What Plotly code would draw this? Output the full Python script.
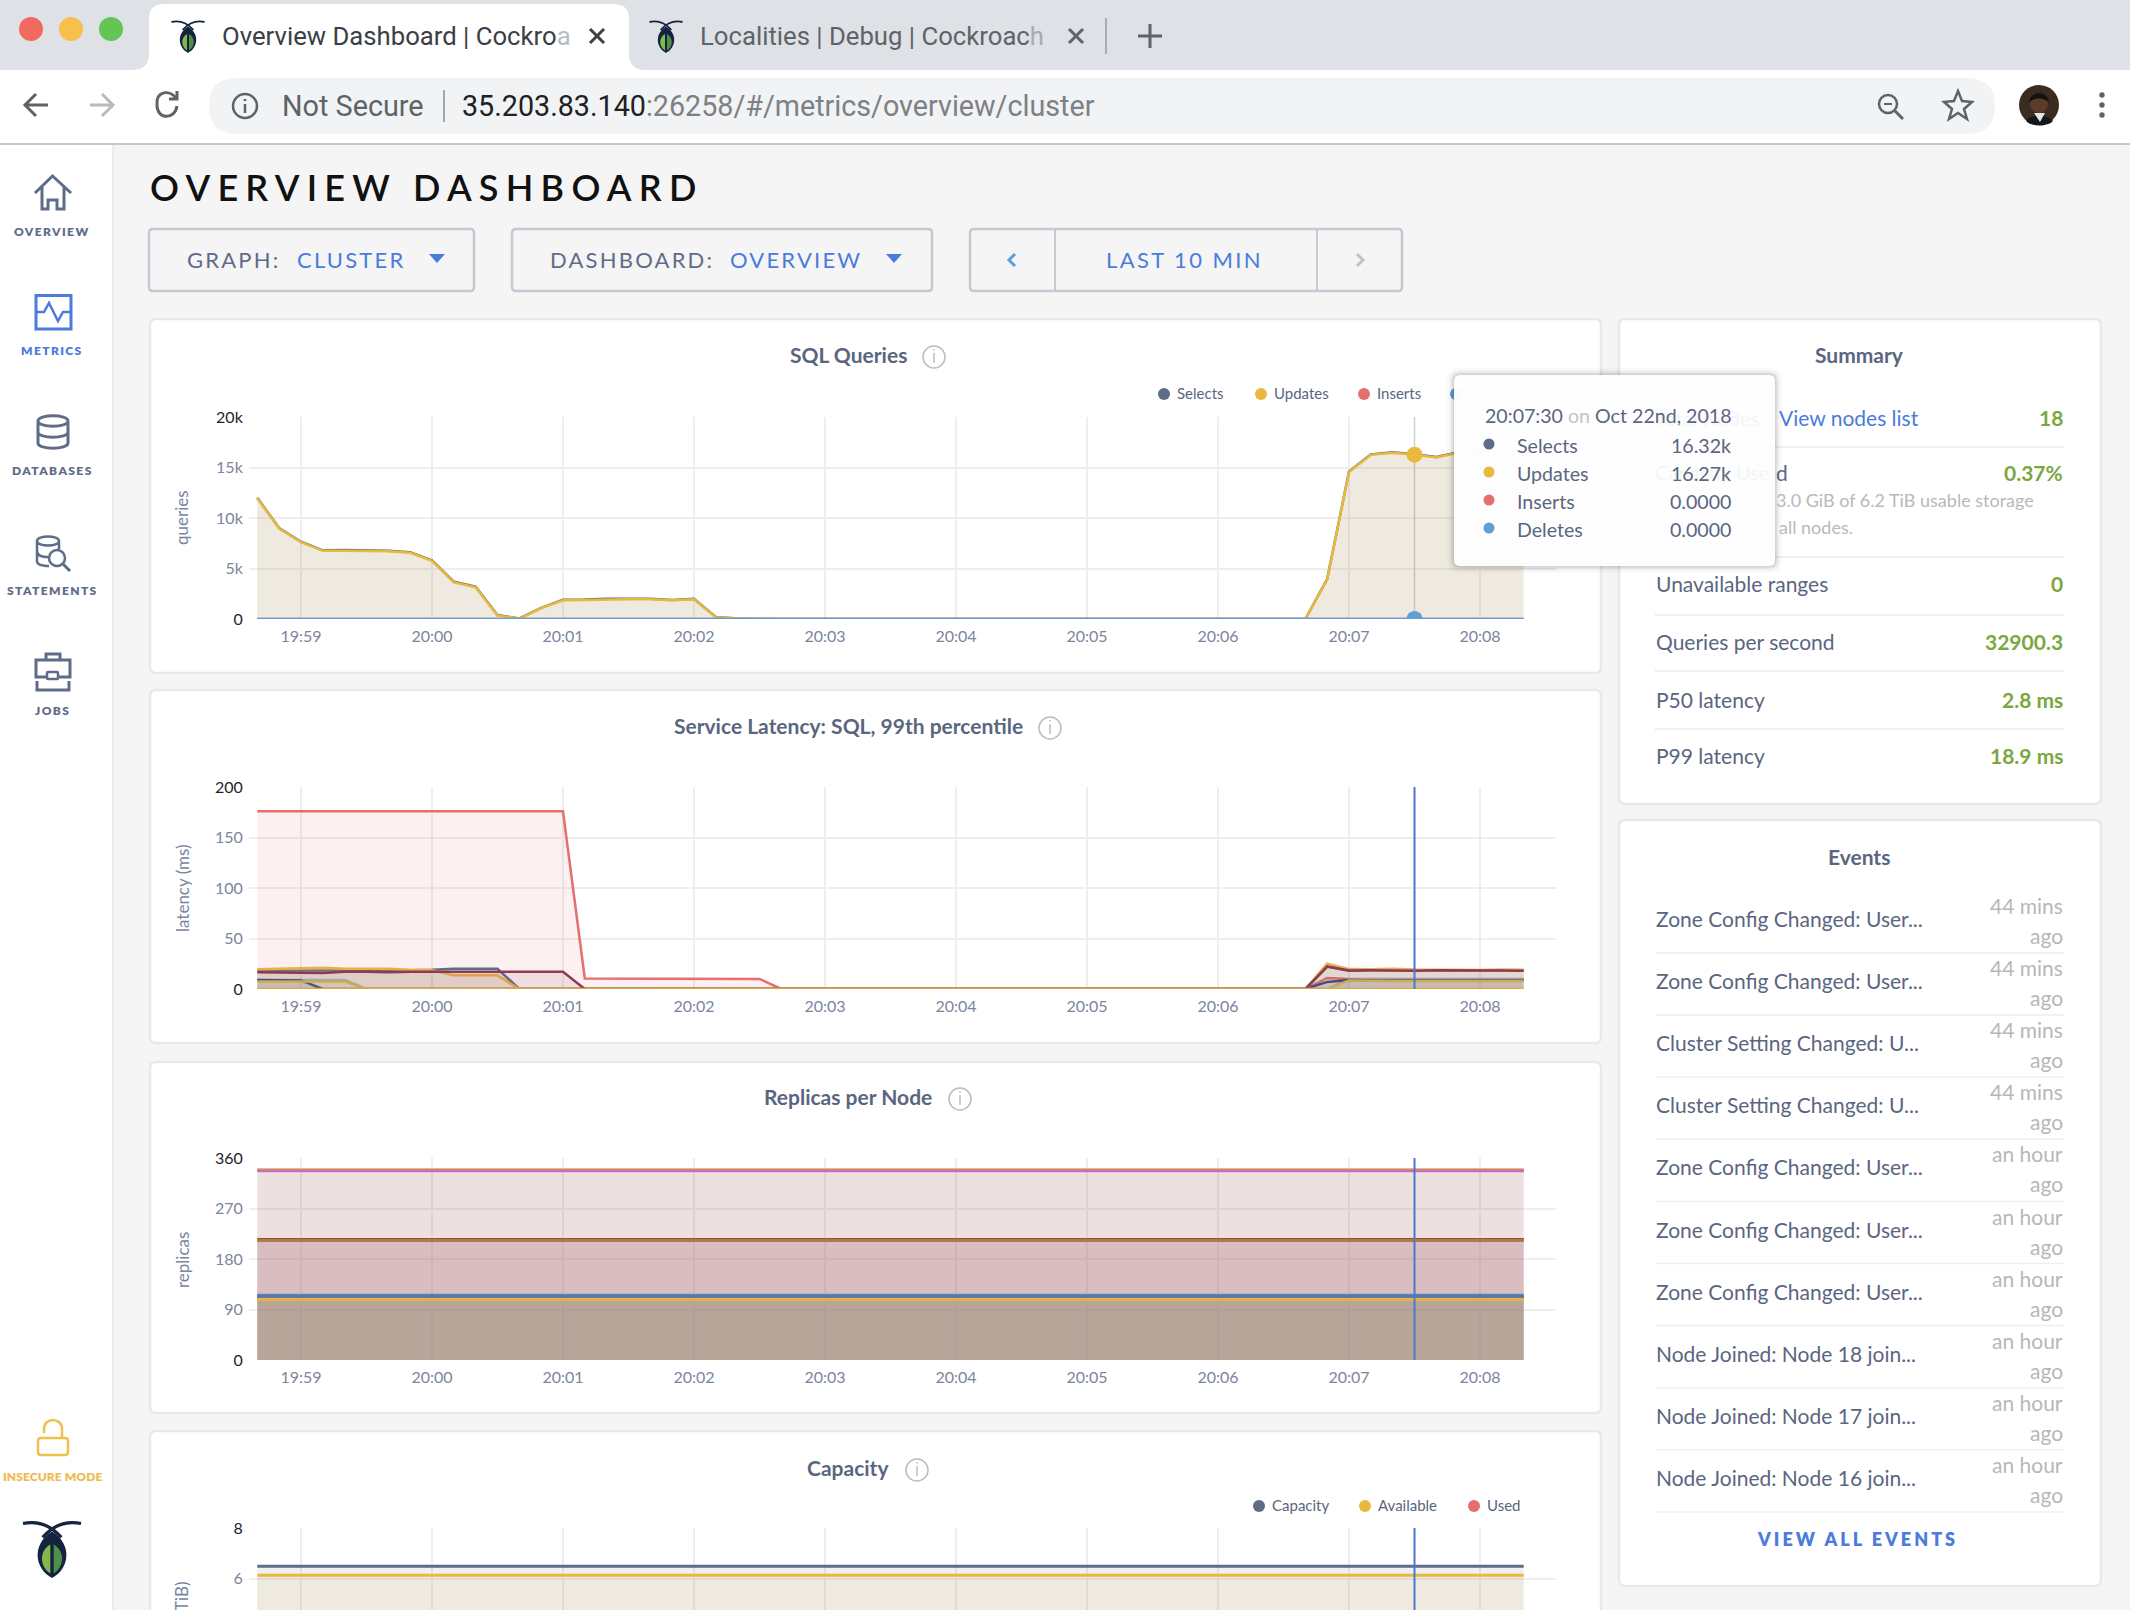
import re
import pandas as pd
import plotly.graph_objects as go

W, H = 2130, 1610

# ---- chart data (one point every 10 s) ----
times = pd.date_range("2018-10-22 19:58:40", periods=59, freq="10s").strftime("%Y-%m-%d %H:%M:%S").tolist()
hover_time = "2018-10-22 20:07:30"

selects = [12000, 9000, 7650, 6800, 6820, 6780, 6760, 6620, 5800, 3700, 3200, 400, 50, 1100, 1900, 1920, 2000, 2000, 2010, 1880, 2000, 200, 50] + [0] * 26 + [3950, 14600, 16300, 16520, 16320, 16050, 16500, 16700, 16500, 16600]
updates = [11950, 8950, 7600, 6750, 6760, 6720, 6710, 6560, 5750, 3620, 3150, 350, 40, 1080, 1860, 1880, 1950, 1960, 1950, 1850, 1950, 180, 40] + [0] * 26 + [3900, 14550, 16250, 16470, 16270, 16000, 16450, 16650, 16450, 16550]
inserts = [0] * 59
deletes = [0] * 59

lat_red = [176] * 15 + [10.5, 10.4, 10.2, 10, 10, 9.8, 10, 10, 10] + [0] * 25 + [10.9] + [10] * 9
lat_maroon = [16.5, 16, 16, 15.8, 17, 17, 16.5, 17, 17, 17, 17, 17, 17, 17, 17] + [0] * 34 + [22.4, 18.4, 18.5, 18, 18, 18.5, 18.2, 17.8, 18.2, 18]
lat_orange = [19.5, 20, 20, 21, 20, 20, 20, 19, 18.5, 13.5, 13.5, 13.5] + [0] * 37 + [25, 19.7, 19.5, 20, 19.2, 19, 19, 18.8, 19.2, 19]
lat_slate = [18, 18, 18, 18, 18, 18.5, 18.5, 18.5, 19, 20, 20, 20] + [0] * 37 + [22, 18, 18.5, 18.5, 18.5, 18.5, 18.5, 18.5, 18.5, 18.5]
lat_navy = [9, 9, 8.5] + [0] * 46 + [7, 9, 8.5, 8.5, 8.5, 8.5, 8.5, 8.5, 8.5, 8.5]
lat_sky = [9, 9, 9, 9, 9] + [0] * 44 + [0, 9.5, 9.5, 9.5, 9.5, 9.5, 9.5, 9.5, 9.5, 9.5]
lat_lime = [7.5] * 5 + [0] * 44 + [0, 8.5, 8, 8, 8, 8, 8, 8, 8, 8]
lat_base = [0] * 59

rep_yellow_hi = [340] * 4 + [339] * 51 + [340] * 4
rep_pink = [337.5] * 59
rep_slate_hi = [338.5] * 59
rep_maroon = [214.5] * 59
rep_brown = [213] * 59
rep_red = [215] * 5 + [216] * 49 + [215] * 5
rep_teal = [116] * 59
rep_blue = [114] * 59
rep_olive = [112.5] * 59
rep_rust = [111] * 59
rep_yellow_lo = [108] * 59

cap_capacity = [6.49] * 4 + [6.47] * 51 + [6.49] * 4
cap_available = [6.13] * 59
cap_used = [0.02] * 59

sql_ticks = [0, 5000, 10000, 15000, 20000]
sql_labels = ["0", "5k", "10k", "15k", "20k"]
lat_ticks = [0, 50, 100, 150, 200]
lat_labels = ["0", "50", "100", "150", "200"]
rep_ticks = [0, 90, 180, 270, 360]
rep_labels = ["0", "90", "180", "270", "360"]
cap_ticks = [6, 8]
cap_labels = ["6", "8"]

summary_rows = ["Unavailable ranges", "Queries per second", "P50 latency", "P99 latency"]
summary_vals = ["0", "32900.3", "2.8 ms", "18.9 ms"]
event_names = ["Zone Config Changed: User...", "Zone Config Changed: User...", "Cluster Setting Changed: U...",
               "Cluster Setting Changed: U...", "Zone Config Changed: User...", "Zone Config Changed: User...",
               "Zone Config Changed: User...", "Node Joined: Node 18 join...", "Node Joined: Node 17 join...",
               "Node Joined: Node 16 join..."]
event_ages = ["44 mins"] * 4 + ["an hour"] * 6
tooltip_names = ["Selects", "Updates", "Inserts", "Deletes"]
tooltip_vals = ["16.32k", "16.27k", "0.0000", "0.0000"]

# ---- colours ----
SLATE = "#5f6c87"
YELLOW = "#e9b93e"
RED = "#e56e6e"
BLUE = "#5f9fd6"
LINK = "#4a7bdd"
GREEN = "#7ba73e"
TEXT = "#5a6680"
TICK = "#7b859d"
GRID = "#eeeeee"

shapes = []
notes = []


def px(x):
    return x / W


def py(y):
    return 1 - y / H


def rgba(c, a):
    return "rgba(%d,%d,%d,%s)" % (int(c[1:3], 16), int(c[3:5], 16), int(c[5:7], 16), a)


def path(d, line=None, width=0, fill=None, layer="below"):
    # d is written in page pixels, the shape wants paper fractions
    nums = iter(re.findall(r"[A-Za-z]|-?[\d.]+", d))
    out = []
    xturn = True
    for tok in nums:
        if tok.isalpha():
            out.append(tok)
            xturn = True
        else:
            v = float(tok)
            out.append("%.5f" % (px(v) if xturn else py(v)))
            xturn = not xturn
    shapes.append(dict(type="path", path=" ".join(out).replace(" ,", ","), xref="paper", yref="paper", layer=layer,
                       line=dict(color=line or "rgba(0,0,0,0)", width=width), fillcolor=fill or "rgba(0,0,0,0)"))


def rrect(x0, y0, x1, y1, r, fill=None, line=None, width=0, layer="below"):
    d = f"M{x0+r} {y0} L{x1-r} {y0} Q{x1} {y0} {x1} {y0+r} L{x1} {y1-r} Q{x1} {y1} {x1-r} {y1} L{x0+r} {y1} Q{x0} {y1} {x0} {y1-r} L{x0} {y0+r} Q{x0} {y0} {x0+r} {y0} Z"
    path(d, line, width, fill, layer)


def rect(x0, y0, x1, y1, fill, layer="below"):
    shapes.append(dict(type="rect", xref="paper", yref="paper", x0=px(x0), x1=px(x1), y0=py(y0), y1=py(y1),
                       fillcolor=fill, line=dict(width=0), layer=layer))


def circle(x, y, r, fill=None, line=None, width=0, layer="below"):
    shapes.append(dict(type="circle", xref="paper", yref="paper", x0=px(x - r), x1=px(x + r), y0=py(y - r), y1=py(y + r),
                       fillcolor=fill or "rgba(0,0,0,0)", line=dict(color=line or "rgba(0,0,0,0)", width=width), layer=layer))


def seg(x0, y0, x1, y1, color, width=2, layer="below"):
    shapes.append(dict(type="line", xref="paper", yref="paper", x0=px(x0), x1=px(x1), y0=py(y0), y1=py(y1),
                       line=dict(color=color, width=width), layer=layer))


def txt(x, y, s, size, color=TEXT, anchor="left", font="Lato", weight=400, angle=0, spacing=None):
    if spacing:
        s = f'<span style="letter-spacing:{spacing}px">{s}</span>'
    if font == "Lato" and angle == 0:
        y -= 1.5
    notes.append(dict(x=px(x), y=py(y), xref="paper", yref="paper", text=s, showarrow=False, xanchor=anchor, yanchor="middle",
                      textangle=angle, borderpad=0, font=dict(family=font, size=size, color=color, weight=weight)))


def roach(cx, top, h):
    def p(a, b):
        return f"{cx + a * h:.1f} {top + b * h:.1f}"
    path(f"M{p(-.5, .06)} Q{p(-.12, -.02)} {p(.16, .3)}", line="#14233f", width=max(1.5, h * .055))
    path(f"M{p(.5, .06)} Q{p(.12, -.02)} {p(-.16, .3)}", line="#14233f", width=max(1.5, h * .055))
    path(f"M{p(0, .2)} C{p(.36, .42)} {p(.3, .85)} {p(0, 1)} C{p(-.3, .85)} {p(-.36, .42)} {p(0, .2)} Z", fill="#14233f")
    path(f"M{p(-.03, .42)} C{p(-.22, .52)} {p(-.22, .8)} {p(-.03, .92)} Z", fill="#84b84a")
    path(f"M{p(.03, .42)} C{p(.22, .52)} {p(.22, .8)} {p(.03, .92)} Z", fill="#4f8f4a")


# ---- browser window ----
rect(0, 0, W, 70, "#dee1e6")
rect(0, 70, W, 143, "#ffffff")
rect(0, 143, W, 145, "#c8c8c8")
path("M132 70 Q149 70 149 54 L149 18 Q149 4 165 4 L613 4 Q629 4 629 18 L629 54 Q629 70 646 70 Z", fill="#ffffff")
for cx, col in zip([31, 71, 111], ["#f26a5f", "#f8bf4b", "#62c554"]):
    circle(cx, 29, 12, fill=col)
roach(188, 20, 33)
roach(666, 20, 33)
txt(221, 36, 'Overview Dashboard | Cockro<span style="color:#b9bcc2">a</span>', 25.7, "#3c4043", font="Roboto")
txt(699, 36, 'Localities | Debug | Cockroac<span style="color:#a8abb1">h</span>', 25.7, "#5f6368", font="Roboto")
for x0, col in [(596, "#3c4043"), (1075, "#5f6368")]:
    seg(x0 - 6, 29, x0 + 8, 43, col, 3)
    seg(x0 + 8, 29, x0 - 6, 43, col, 3)
seg(1106, 18, 1106, 54, "#a9acb2", 2)
seg(1150, 24, 1150, 48, "#5f6368", 3)
seg(1138, 36, 1162, 36, "#5f6368", 3)

path("M48 105 L25 105 M36 94 L25 105 L36 116", line="#5f6368", width=3)
path("M90 105 L113 105 M102 94 L113 105 L102 116", line="#b8babd", width=3)
path("M176 98 C170 90 156 90 157 105 C157 120 175 120 177 106 M177 91 L177 99 L169 99", line="#5f6368", width=3)
rrect(209, 78, 1995, 134, 28, fill="#f1f3f4")
circle(245, 106, 12, line="#5f6368", width=2.5)
seg(245, 104, 245, 113, "#5f6368", 2.5)
seg(245, 99, 245, 101, "#5f6368", 2.5)
txt(281, 106, "Not Secure", 28.8, "#5f6368", font="Roboto")
seg(444, 90, 444, 122, "#8a8d91", 1.5)
txt(461, 106, '35.203.83.140<span style="color:#7d8084">:26258/#/metrics/overview/cluster</span>', 28.7, "#202124", font="Roboto")
circle(1888, 104, 9, line="#5f6368", width=2.5)
seg(1895, 111, 1903, 119, "#5f6368", 3)
seg(1884, 104, 1892, 104, "#5f6368", 2)
path("M1958 91 L1962 101 L1972 102 L1964 109 L1967 119 L1958 113 L1949 119 L1952 109 L1944 102 L1954 101 Z", line="#5f6368", width=2.5)
# avatar
circle(2039, 105, 20, fill="#3b2c22")
path("M2026 121 C2030 114 2048 114 2053 121 C2048 127 2031 127 2026 121 Z", fill="#14161d")
path("M2034 113 L2045 113 L2040 122 Z", fill="#e8e4e4")
circle(2039, 104, 9, fill="#5c3b2b")
path("M2029 103 C2029 90 2049 90 2049 103 C2045 97 2033 97 2029 103 Z", fill="#16110f")
for y in [95, 105, 115]:
    circle(2102, y, 2.7, fill="#5f6368")

# ---- sidebar ----
rect(0, 145, 112, H, "#ffffff")
rect(112, 145, 114, H, "#ececec")
path("M35 193 L52.5 176 L71 193 M42 187 L42 209 L48 209 L48 200 L57 200 L57 209 L64 209 L64 187", line=SLATE, width=3)
path("M36 295.5 L71 295.5 L71 329 L36 329 Z", line=LINK, width=3)
path("M36 312 L44 312 L49 303 L58 321 L63 312 L71 312", line=LINK, width=2.5)
path("M38 421 C38 414 68 414 68 421 C68 428 38 428 38 421 L38 443 C38 450 68 450 68 443 L68 421 M38 432 C38 439 68 439 68 432", line=SLATE, width=3)
path("M37 541 C37 535 59 535 59 541 C59 547 37 547 37 541 L37 561 C37 565 44 566 49 566 M37 551 C37 556 44 557 48 557 M59 541 L59 549", line=SLATE, width=2.5)
circle(57, 558, 8, line=SLATE, width=2.5)
seg(63, 564, 70, 571, SLATE, 3)
path("M36 660 L70 660 L70 677 L36 677 Z M46 660 L46 654 L60 654 L60 660", line=SLATE, width=3)
rrect(47, 672, 58, 679, 1, fill="#ffffff", line=SLATE, width=2.5)
path("M37 681 L37 690 L69 690 L69 681", line=SLATE, width=3)
for y, label, col in [(232.5, "OVERVIEW", SLATE), (352, "METRICS", LINK), (472, "DATABASES", SLATE), (592, "STATEMENTS", SLATE), (712, "JOBS", SLATE)]:
    txt(52, y, label, 12, col, "center", weight=800, spacing=1.4)
rrect(38, 1438, 68, 1455, 3, line="#f0c04e", width=2.5)
path("M44 1433 L44 1429 C44 1417 62 1417 62 1429 L62 1438", line="#f0c04e", width=2.5)
txt(52, 1478, "INSECURE MODE", 12, "#eebb55", "center", weight=800, spacing=0.1)
roach(52, 1520, 58)

# ---- page header ----
txt(149, 188, "OVERVIEW DASHBOARD", 36, "#111111", spacing=7.25, weight=600)
for x0, x1 in [(149, 474), (512, 932), (970, 1402)]:
    rrect(x0, 229, x1, 291, 4, fill="#f5f5f5", line="#c5c9d3", width=2.5)
seg(1055, 230, 1055, 290, "#c5c9d3", 2)
seg(1317, 230, 1317, 290, "#c5c9d3", 2)
txt(186, 261, 'GRAPH:', 22, SLATE, spacing=2.2)
txt(296, 261, 'CLUSTER', 22, LINK, spacing=2.2)
path("M429 254 L445 254 L437 263 Z", fill=LINK)
txt(549, 261, 'DASHBOARD:', 22, SLATE, spacing=2.2)
txt(729, 261, 'OVERVIEW', 22, LINK, spacing=2.2)
path("M886 254 L902 254 L894 263 Z", fill=LINK)
path("M1015 254 L1009 260 L1015 266", line="#5b9fe0", width=3)
txt(1184, 261, "LAST 10 MIN", 22, LINK, "center", spacing=2.4)
path("M1357 254 L1363 260 L1357 266", line="#bfc3cc", width=3)

# ---- panels ----
for y0, y1 in [(319, 673), (690, 1043), (1062, 1413), (1431, 1640)]:
    rrect(150, y0, 1601, y1, 6, fill="#ffffff", line="#e9e9e9", width=2.5)
rrect(1619, 319, 2101, 804, 6, fill="#ffffff", line="#e9e9e9", width=2.5)
rrect(1619, 820, 2101, 1586, 6, fill="#ffffff", line="#e9e9e9", width=2.5)

for title, y, info_x in [("SQL Queries", 356, 934), ("Service Latency: SQL, 99th percentile", 727, 1050),
                         ("Replicas per Node", 1098, 960), ("Capacity", 1469, 917)]:
    txt(848, y, title, 21, TEXT, "center", weight=700)
    circle(info_x, y + 1, 11, line="#bcbcbc", width=1.5)
    seg(info_x, y - 3, info_x, y + 7, "#bcbcbc", 1.5)
    seg(info_x, y - 7, info_x, y - 5.5, "#bcbcbc", 1.5)

for label, y in [("queries", 518), ("latency (ms)", 888), ("replicas", 1260)]:
    txt(182, y, label, 17, TICK, "center", angle=-90)
txt(182, 1631, "capacity (TiB)", 17, TICK, "center", angle=-90)

# legends
for x, name, col in [(1164, "Selects", SLATE), (1261, "Updates", YELLOW), (1364, "Inserts", RED)]:
    circle(x, 394, 6, fill=col)
    txt(x + 12, 394, name, 15, TEXT)
circle(1456, 394, 6, fill=BLUE)
for x, name, col in [(1259, "Capacity", SLATE), (1365, "Available", YELLOW), (1474, "Used", RED)]:
    circle(x, 1506, 6, fill=col)
    txt(x + 12, 1506, name, 15, TEXT)

# ---- summary ----
txt(1859, 356, "Summary", 21, TEXT, "center", weight=700)
txt(1654, 419, "Total Nodes", 20, "#f4f5f6")
txt(1778, 419, "View nodes list", 21, LINK)
txt(2064, 419, "18", 21, GREEN, "right", weight=700)
seg(1655, 447, 2064, 447, "#efefef", 2)
txt(1654, 474, "Capacity Use", 20, "#f4f5f6")
txt(1775, 474, "d", 21, TEXT)
txt(2064, 474, "0.37%", 21, GREEN, "right", weight=700)
txt(1775, 502, "3.0 GiB of 6.2 TiB usable storage", 18, "#b9b9b9")
txt(1778, 528, "all nodes.", 18, "#b9b9b9")
seg(1655, 557, 2064, 557, "#efefef", 2)
for i, (name, val) in enumerate(zip(summary_rows, summary_vals)):
    y = [585, 643, 701, 757][i]
    txt(1655, y, name, 21, TEXT)
    txt(2064, y, val, 21, GREEN, "right", weight=700)
    if i < 3:
        seg(1655, [615, 671, 729][i], 2064, [615, 671, 729][i], "#efefef", 2)

# ---- events ----
txt(1859, 858, "Events", 21, TEXT, "center", weight=700)
for i, (name, age) in enumerate(zip(event_names, event_ages)):
    y = 920 + 62.1 * i
    txt(1655, y, name, 21, TEXT)
    txt(2064, y - 13, age, 21, "#b7b7b7", "right")
    txt(2064, y + 17, "ago", 21, "#b7b7b7", "right")
    seg(1655, y + 33, 2064, y + 33, "#efefef", 1.5)
txt(1857, 1540, "VIEW ALL EVENTS", 18, LINK, "center", weight=800, spacing=3)

# ---- charts ----
fig = go.Figure()
X_L, X_R = 249, 1556
x_range = ["2018-10-22 19:58:36.2", "2018-10-22 20:08:34.8"]


def style_ticks(labels):
    # top and bottom labels are darker on the original
    return [f'<span style="color:#1e2230">{t}</span>' if i in (0, len(labels) - 1) else t for i, t in enumerate(labels)]


def setup_axes(n, y_top, y_bottom, y_range, ticks, labels, x_labels=True):
    xa = dict(domain=[px(X_L), px(X_R)], range=x_range, type="date", tick0="2018-10-22 19:59:00", dtick=60000, tickformat="%H:%M",
              showgrid=True, gridcolor=GRID, gridwidth=1.5, zeroline=False, showline=False, ticks="outside", ticklen=3,
              tickcolor="rgba(0,0,0,0)", tickfont=dict(family="Lato", size=16, color=TICK), anchor=f"y{n}", fixedrange=True, automargin=False,
              showticklabels=x_labels)
    ya = dict(domain=[py(y_bottom), py(y_top)], range=y_range, tickmode="array", tickvals=ticks, ticktext=labels,
              showgrid=True, gridcolor=GRID, gridwidth=2, zeroline=False, showline=False, ticks="outside", ticklen=2,
              tickcolor="rgba(0,0,0,0)", tickfont=dict(family="Lato", size=16, color=TICK), anchor=f"x{n}", fixedrange=True, automargin=False)
    fig.layout[f"xaxis{n}"] = xa
    fig.layout[f"yaxis{n}"] = ya


def area(n, y, color, width=2.5, alpha=0.1, fill_color=None):
    fig.add_trace(go.Scatter(x=times, y=y, xaxis=f"x{n}", yaxis=f"y{n}", mode="lines", line=dict(color=color, width=width), cliponaxis=False,
                             fill="tozeroy", fillcolor=rgba(fill_color or color, alpha), hoverinfo="skip"))


def hover_line(n, top, color, width=2):
    fig.add_trace(go.Scatter(x=[hover_time, hover_time], y=[0 if n != 4 else 4, top], xaxis=f"x{n}", yaxis=f"y{n}", mode="lines",
                             line=dict(color=color, width=width), hoverinfo="skip"))


setup_axes(1, 417, 619, [0, 20000], sql_ticks, style_ticks(sql_labels))
setup_axes(2, 787, 989, [0, 200], lat_ticks, style_ticks(lat_labels))
setup_axes(3, 1158, 1360, [0, 360], rep_ticks, style_ticks(rep_labels))
# the capacity chart runs off the bottom of the window
setup_axes(4, 1528, 1610, [8 - 82 / 25.25, 8], cap_ticks, ["6", style_ticks(cap_labels)[1]], x_labels=False)

hover_line(1, 20000, "#cfcfcf", 1.5)
area(1, selects, SLATE)
area(1, updates, YELLOW)
area(1, inserts, RED)
area(1, deletes, BLUE)
fig.add_trace(go.Scatter(x=[hover_time, hover_time], y=[updates[53], deletes[53]], xaxis="x1", yaxis="y1", mode="markers",
                         marker=dict(color=[YELLOW, BLUE], size=16), hoverinfo="skip"))

area(2, lat_red, RED)
area(2, lat_sky, "#8fc3e0")
area(2, lat_navy, "#26418f")
area(2, lat_lime, "#d9c84a")
area(2, lat_slate, SLATE)
area(2, lat_orange, "#e8b048")
area(2, lat_maroon, "#8e3a52")
area(2, lat_base, "#dba94a")
hover_line(2, 200, "#4d76d0")

area(3, rep_slate_hi, SLATE, alpha=0.085)
area(3, rep_yellow_hi, YELLOW, 2, alpha=0.085)
area(3, rep_pink, "#c86eb4", 3, alpha=0.085)
area(3, rep_red, "#c04a55", alpha=0.09)
area(3, rep_maroon, "#8e3a52", alpha=0.09)
area(3, rep_brown, "#a5803e", 3, alpha=0.09, fill_color="#a5707a")
area(3, rep_rust, "#a55014")
area(3, rep_teal, "#4f9e8f")
area(3, rep_olive, "#8a8a50")
area(3, rep_blue, "#5a70cc", 3)
area(3, rep_yellow_lo, "#e6b43c", 3)
hover_line(3, 360, "#4d76d0")

area(4, cap_used, RED)
area(4, cap_capacity, SLATE, 3)
area(4, cap_available, YELLOW, 3)
hover_line(4, 8, "#4d76d0")

# ---- tooltip sits above everything in the SQL chart ----
for grow, a in [(7, 0.02), (5, 0.03), (3, 0.05), (1.5, 0.07)]:
    rrect(1454 - grow, 375 - grow, 1775 + grow, 566 + grow, 6 + grow, fill=f"rgba(0,0,0,{a})", layer="above")
rrect(1454, 375, 1775, 566, 6, fill="rgba(255,255,255,0.97)", layer="above")
txt(1484, 417, '20:07:30 <span style="color:#c4c4c4">on</span> Oct 22nd, 2018', 19.6, TEXT)
for i, (name, val, col) in enumerate(zip(tooltip_names, tooltip_vals, [SLATE, YELLOW, RED, BLUE])):
    y = 447 + 28 * i
    circle(1489, y - 3, 5.5, fill=col, layer="above")
    txt(1516, y, name, 19.6, TEXT)
    txt(1732, y, val, 19.6, TEXT, "right")

fig.update_layout(width=W, height=H, margin=dict(l=0, r=0, t=0, b=0, autoexpand=False), paper_bgcolor="#f5f5f5", plot_bgcolor="rgba(0,0,0,0)",
                  showlegend=False, hovermode=False, shapes=shapes, annotations=notes, font=dict(family="Lato"))
fig.write_html("out.html", config={"displayModeBar": False},
               post_script="document.body.style.margin='0';document.body.style.overflow='hidden';")
